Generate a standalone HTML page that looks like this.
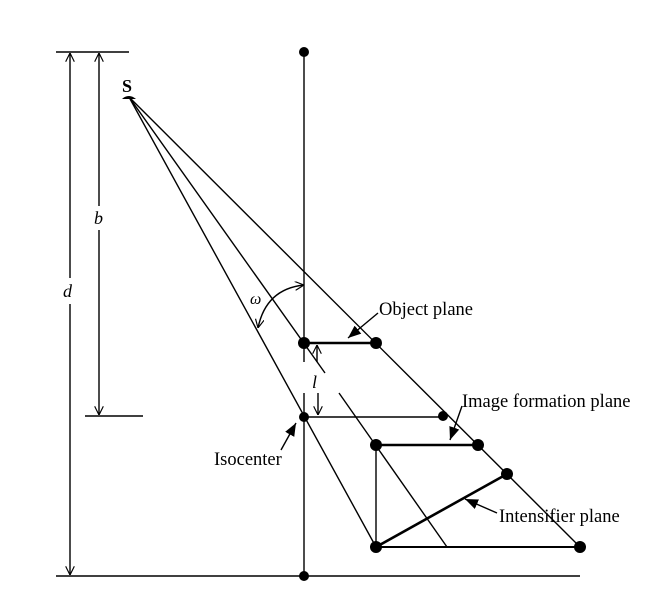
<!DOCTYPE html>
<html><head><style>
html,body{margin:0;padding:0;background:#fff;}
svg{display:block;}
text{font-family:"Liberation Serif",serif;fill:#000;}
</style></head><body>
<svg width="664" height="600" viewBox="0 0 664 600" xmlns="http://www.w3.org/2000/svg">
<defs>
<marker id="oa" viewBox="0 0 10 10" refX="10" refY="5" markerWidth="9" markerHeight="9" orient="auto-start-reverse" markerUnits="userSpaceOnUse"><path d="M0,0 L10,5 L0,10" fill="none" stroke="#000" stroke-width="1.3"/></marker>
<marker id="fa" viewBox="0 0 10 10" refX="10" refY="5" markerWidth="13" markerHeight="13" orient="auto" markerUnits="userSpaceOnUse"><path d="M0,1 L10,5 L0,9 z" fill="#000"/></marker>
</defs>
<g stroke="#000" stroke-width="1.4" fill="none">
<line x1="56" y1="52" x2="129" y2="52"/>
<line x1="85" y1="416" x2="143" y2="416"/>
<line x1="56" y1="576" x2="580" y2="576"/>
<line x1="70" y1="278" x2="70" y2="53" marker-end="url(#oa)"/>
<line x1="70" y1="304" x2="70" y2="575" marker-end="url(#oa)"/>
<line x1="99" y1="206" x2="99" y2="53" marker-end="url(#oa)"/>
<line x1="99" y1="230" x2="99" y2="415" marker-end="url(#oa)"/>
<line x1="304" y1="52" x2="304" y2="362"/>
<line x1="304" y1="393" x2="304" y2="576"/>
<line x1="129" y1="97" x2="580" y2="547"/>
<line x1="129" y1="97" x2="325" y2="373"/>
<line x1="339" y1="393" x2="447" y2="547"/>
<line x1="129" y1="97" x2="376" y2="547"/>
<line x1="304" y1="417" x2="443" y2="417"/>
<line x1="376" y1="445" x2="376" y2="547"/>
<line x1="376" y1="547" x2="580" y2="547" stroke-width="2"/>
<line x1="304" y1="343" x2="376" y2="343" stroke-width="2.6"/>
<line x1="376" y1="445" x2="478" y2="445" stroke-width="2.6"/>
<line x1="376" y1="547" x2="507" y2="474" stroke-width="2.6"/>
<line x1="317" y1="362" x2="317" y2="345" marker-end="url(#oa)"/>
<line x1="318" y1="393" x2="318" y2="415" marker-end="url(#oa)"/>
<path d="M258,328 Q266,289 304,285" marker-start="url(#oa)" marker-end="url(#oa)"/>
<line x1="378" y1="313" x2="348" y2="338" marker-end="url(#fa)"/>
<line x1="462" y1="406" x2="450" y2="440" marker-end="url(#fa)"/>
<line x1="497" y1="513" x2="465" y2="499" marker-end="url(#fa)"/>
<line x1="281" y1="450" x2="296" y2="423" marker-end="url(#fa)"/>
</g>
<g fill="#000">
<circle cx="304" cy="52" r="5"/>
<circle cx="304" cy="343" r="6"/>
<circle cx="376" cy="343" r="6"/>
<circle cx="304" cy="417" r="5"/>
<circle cx="443" cy="416" r="5"/>
<circle cx="376" cy="445" r="6"/>
<circle cx="478" cy="445" r="6"/>
<circle cx="507" cy="474" r="6"/>
<circle cx="376" cy="547" r="6"/>
<circle cx="580" cy="547" r="6"/>
<circle cx="304" cy="576" r="5"/>
<path d="M122,99 Q129,93 136,99 z"/>
</g>
<text x="122" y="92" font-size="18" font-weight="bold">S</text>
<text x="94" y="224" font-size="18" font-style="italic">b</text>
<text x="63" y="297" font-size="18" font-style="italic">d</text>
<text x="250" y="304" font-size="16" font-style="italic">ω</text>
<text x="312" y="388" font-size="18" font-style="italic">l</text>
<text x="379" y="315" font-size="18.5">Object plane</text>
<text x="462" y="407" font-size="18.5">Image formation plane</text>
<text x="499" y="522" font-size="18.5">Intensifier plane</text>
<text x="214" y="465" font-size="18.5">Isocenter</text>
</svg>
</body></html>
